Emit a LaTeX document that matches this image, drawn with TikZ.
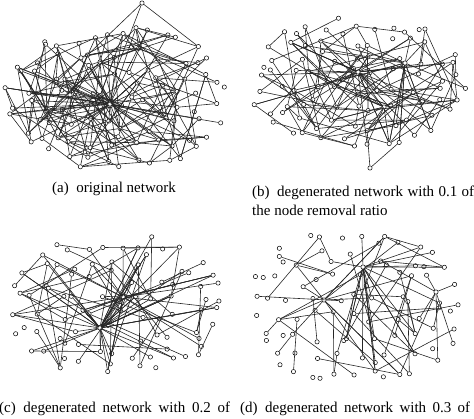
\documentclass[tikz,border=0pt]{standalone}
\usepackage{fontspec}
\setmainfont{Liberation Serif}
\usetikzlibrary{positioning}
\tikzset{
  vertex/.style={circle,draw,line width=0.5pt,fill=white,minimum size=4.3pt,inner sep=0},
  edge/.style={line width=0.6pt,draw=black!85},
  caption/.style={font=\fontsize{15}{19}\selectfont,inner sep=0},
}
\newdimen\ddx
\newdimen\ddy
% #2 x #3 vertices named #1<i>, a jittered grid bent into the ellipse at (#4,#5), radii #6,#7
\newcommand{\scatternet}[7]{%
  \foreach \r in {1,...,#3}{
    \foreach \c in {1,...,#2}{
      \pgfmathtruncatemacro{\i}{(\r-1)*#2+\c}
      \pgfmathsetmacro{\u}{-1+2*(\c-0.5+0.9*(rnd-0.5))/#2}
      \pgfmathsetmacro{\v}{-1+2*(\r-0.5+0.9*(rnd-0.5))/#3}
      \node[vertex] (#1\i) at ({#4+#6*\u*sqrt(1-\v*\v/2)},{#5+#7*\v*sqrt(1-\u*\u/2)}) {};
    }
  }}
% an edge only when both ends are close enough
\newcommand{\linkifnear}[3]{%
  \pgfextractx{\ddx}{\pgfpointdiff{\pgfpointanchor{#1}{center}}{\pgfpointanchor{#2}{center}}}%
  \pgfextracty{\ddy}{\pgfpointdiff{\pgfpointanchor{#1}{center}}{\pgfpointanchor{#2}{center}}}%
  \pgfmathveclen{\ddx}{\ddy}%
  \ifdim\pgfmathresult pt<#3pt\ifdim\pgfmathresult pt>14pt \draw[edge] (#1) -- (#2);\fi\fi}
% every vertex #1<1..#2> tries #3 random partners
\newcommand{\randlinks}[4]{%
  \foreach \ia in {1,...,#2}{
    \foreach \k in {1,...,#3}{
      \pgfmathrandominteger{\ib}{1}{#2}
      \linkifnear{#1\ia}{#1\ib}{#4}
    }
  }}
% #4 tries of a spoke from hub #2 to the vertices #1<1..#3>
\newcommand{\spokes}[5]{%
  \foreach \k in {1,...,#4}{
    \pgfmathrandominteger{\ib}{1}{#3}
    \linkifnear{#2}{#1\ib}{#5}
  }}

\begin{document}
\begin{tikzpicture}[x=1pt,y=-1pt]
  \useasboundingbox (0,0) rectangle (474,419);
  % (a) original network
  \pgfmathsetseed{7}
  \scatternet{a}{12}{8}{117}{98}{114}{74}
  \node[vertex] (atop) at (142,3) {};
  \node[vertex] (ahub) at (110,104) {};
  \node[vertex] (ahubb) at (70,95) {};
  \node[vertex] (ahubc) at (100,62) {};
  \randlinks{a}{96}{3}{95}
  \spokes{a}{ahub}{96}{45}{140}
  \spokes{a}{ahubb}{96}{16}{110}
  \spokes{a}{ahubc}{96}{14}{110}
  \spokes{a}{atop}{96}{16}{90}
  \node[caption,anchor=base] (capa) at (114,193) {(a)\enspace original network};

  % (b) 0.1 of the nodes removed
  \pgfmathsetseed{21}
  \scatternet{b}{11}{8}{357}{82}{110}{68}
  \node[vertex] (bhub) at (358,72) {};
  \node[vertex] (bhubb) at (405,63) {};
  \node[vertex] (bhubc) at (384,107) {};
  \node[vertex] (bout) at (370,168) {};
  \randlinks{b}{88}{2}{95}
  \spokes{b}{bhub}{88}{32}{140}
  \spokes{b}{bhubb}{88}{20}{120}
  \spokes{b}{bhubc}{88}{16}{110}
  \spokes{b}{bout}{88}{20}{50}
  \node[caption,anchor=base west] (capb) at (252,197) {\makebox[222pt][s]{(b)\enspace degenerated network with 0.1 of}};
  \node[caption,anchor=base west] (capbb) at (252,216) {the node removal ratio};

  % (c) 0.2 of the nodes removed
  \pgfmathsetseed{33}
  \scatternet{c}{11}{8}{117}{306}{112}{74}
  \node[vertex] (chub) at (100,328) {};
  \node[vertex] (chubb) at (123,297) {};
  \randlinks{c}{88}{1}{110}
  \spokes{c}{chub}{88}{40}{140}
  \spokes{c}{chubb}{88}{24}{120}
  \node[caption,anchor=base west] (capc) at (-1,413) {\makebox[231pt][s]{(c)\enspace degenerated network with 0.2 of}};

  % (d) 0.3 of the nodes removed
  \pgfmathsetseed{45}
  \scatternet{d}{11}{8}{355}{307}{112}{80}
  \node[vertex] (dhub) at (324,300) {};
  \node[vertex] (dhubb) at (363,267) {};
  \node[vertex] (dhubc) at (436,292) {};
  \randlinks{d}{88}{1}{95}
  \spokes{d}{dhub}{88}{18}{110}
  \spokes{d}{dhubb}{88}{20}{120}
  \spokes{d}{dhubc}{88}{14}{110}
  \node[caption,anchor=base west] (capd) at (240,413) {\makebox[230pt][s]{(d)\enspace degenerated network with 0.3 of}};
\end{tikzpicture}
\end{document}
